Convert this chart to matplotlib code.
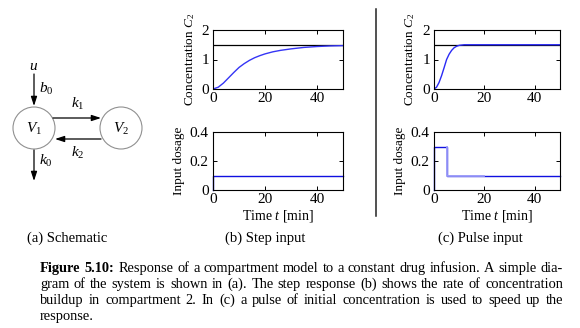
import numpy as np
import matplotlib
matplotlib.use('Agg')
import matplotlib.pyplot as plt
from matplotlib.patches import Circle

plt.rcParams['font.family'] = ['Liberation Serif', 'DejaVu Serif']
plt.rcParams['mathtext.fontset'] = 'custom'
plt.rcParams['mathtext.rm'] = 'Liberation Serif'
plt.rcParams['mathtext.it'] = 'Liberation Serif:italic'

# ---------------- data ----------------
xticks = [0, 20, 40]
conc_ticks = [0, 1, 2]
dose_ticks = [0, 0.2, 0.4]
dose_ticklabels = ['0', '0.2', '0.4']
target_c = 1.5

# (b) step input
step_t = [0, 2, 4, 6, 8, 10, 12, 14, 16, 18, 20, 23, 26, 30, 35, 40, 45, 50]
step_c = [0, 0.06, 0.2, 0.38, 0.56, 0.73, 0.86, 0.97, 1.06, 1.13, 1.19, 1.26, 1.31, 1.36, 1.41, 1.44, 1.46, 1.47]
step_in_t = [0, 0, 50]
step_in_u = [0, 0.1, 0.1]

# (c) pulse input
pulse_t = [0, 1, 2, 3, 4, 5, 6, 7, 8, 9, 10, 12, 15, 50]
pulse_c = [0, 0.06, 0.22, 0.45, 0.72, 1.0, 1.18, 1.31, 1.4, 1.45, 1.48, 1.5, 1.5, 1.5]
pulse_in_t = [0, 0, 5, 5, 20, 50]
pulse_in_u = [0, 0.3, 0.3, 0.1, 0.1, 0.1]

caption_lines = [
    "Figure 5.10: Response of a compartment model to a constant drug infusion. A simple dia-",
    "gram of the system is shown in (a). The step response (b) shows the rate of concentration",
    "buildup in compartment 2. In (c) a pulse of initial concentration is used to speed up the",
    "response.",
]

W, H = 580, 328
fig = plt.figure(figsize=(W / 100, H / 100), dpi=100)


def px_axes(left, top, right, bottom):
    return fig.add_axes([left / W, 1 - bottom / H, (right - left) / W, (bottom - top) / H])


def style(ax, yt, ytl, ylim):
    ax.set_xlim(0, 50)
    ax.set_ylim(*ylim)
    ax.set_xticks(xticks)
    ax.set_xticklabels([str(v) for v in xticks])
    ax.set_yticks(yt)
    ax.set_yticklabels(ytl)
    ax.tick_params(direction='in', top=True, right=True, length=3, width=0.7,
                   labelsize=11)
    ax.tick_params(axis='x', pad=2.5)
    ax.tick_params(axis='y', pad=3)
    for s in ax.spines.values():
        s.set_linewidth(0.8)


# ---- (b) ----
ax_b1 = px_axes(213, 30, 343, 89)
ax_b1.axhline(target_c, color='black', lw=0.9)
ax_b1.plot(step_t, step_c, color='#3535f5', lw=1.0)
style(ax_b1, conc_ticks, ['0', '1', '2'], (0, 2))
ax_b1.set_ylabel('Concentration $C_2$', fontsize=9.5)
ax_b1.yaxis.set_label_coords(-0.125, 0.5)

ax_b2 = px_axes(213, 132, 343, 190)
ax_b2.plot(step_in_t, step_in_u, color='#1010e0', lw=1.0, clip_on=False)
style(ax_b2, dose_ticks, dose_ticklabels, (0, 0.4))
ax_b2.set_ylabel('Input dosage', fontsize=9.5)
ax_b2.yaxis.set_label_coords(-0.215, 0.5)
ax_b2.set_xlabel('Time $t$ [min]', fontsize=10, labelpad=1)

# ---- (c) ----
ax_c1 = px_axes(434, 30, 560, 89)
ax_c1.axhline(target_c, color='black', lw=0.9)
ax_c1.plot(pulse_t, pulse_c, color='#2a2af5', lw=1.0)
style(ax_c1, conc_ticks, ['0', '1', '2'], (0, 2))
ax_c1.set_ylabel('Concentration $C_2$', fontsize=9.5)
ax_c1.yaxis.set_label_coords(-0.135, 0.5)

ax_c2 = px_axes(434, 132, 560, 190)
ax_c2.plot(pulse_in_t, pulse_in_u, color='#1010e0', lw=1.0, clip_on=False)
ax_c2.plot(pulse_in_t[2:5], pulse_in_u[2:5], color='#9a9af8', lw=1.3)
style(ax_c2, dose_ticks, dose_ticklabels, (0, 0.4))
ax_c2.set_ylabel('Input dosage', fontsize=9.5)
ax_c2.yaxis.set_label_coords(-0.22, 0.5)
ax_c2.set_xlabel('Time $t$ [min]', fontsize=10, labelpad=1)

# ---- overlay in pixel coords: schematic, separator, captions ----
ov = fig.add_axes([0, 0, 1, 1], zorder=-1)
ov.set_xlim(0, W)
ov.set_ylim(H, 0)
ov.axis('off')

r = 21
for cx, name in [(34, '$V_1$'), (121, '$V_2$')]:
    ov.add_patch(Circle((cx, 128), r, fill=False, ec='#909090', lw=0.8))
    ov.text(cx, 129, name, fontsize=11, ha='center', va='center')

arrow = dict(arrowstyle='-|>,head_length=0.55,head_width=0.18', color='black', lw=0.9,
             shrinkA=0, shrinkB=0)
ov.annotate('', xy=(34, 106), xytext=(34, 74), arrowprops=arrow)
ov.annotate('', xy=(101, 118), xytext=(53, 118), arrowprops=arrow)
ov.annotate('', xy=(55, 139), xytext=(101, 139), arrowprops=arrow)
ov.annotate('', xy=(34, 181), xytext=(34, 150), arrowprops=arrow)
ov.text(34, 66, '$u$', fontsize=11, ha='center', va='center')
ov.text(39, 89, '$b_0$', fontsize=11, ha='left', va='center')
ov.text(78, 104, '$k_1$', fontsize=11, ha='center', va='center')
ov.text(78, 153, '$k_2$', fontsize=11, ha='center', va='center')
ov.text(39, 161, '$k_0$', fontsize=11, ha='left', va='center')

ov.plot([376, 376], [9, 216], color='#222222', lw=1.1)

ov.text(67, 238, '(a) Schematic', fontsize=10.5, ha='center', va='center')
ov.text(265, 238, '(b) Step input', fontsize=10.5, ha='center', va='center')
ov.text(480, 238, '(c) Pulse input', fontsize=10.5, ha='center', va='center')

# justified caption
x0, x1 = 40, 563
baselines = [272, 288, 304, 320]
fig.canvas.draw()
for i, (line, yb) in enumerate(zip(caption_lines, baselines)):
    words = line.split(' ')
    objs = []
    for j, w in enumerate(words):
        bold = (i == 0 and j < 2)
        objs.append(ov.text(0, yb, w, fontsize=10.4, va='baseline', ha='left',
                            fontweight='bold' if bold else 'normal'))
    fig.canvas.draw()
    widths = [o.get_window_extent().width for o in objs]
    if i < len(caption_lines) - 1:
        gap = (x1 - x0 - sum(widths)) / (len(objs) - 1)
    else:
        gap = 3
    x = x0
    for o, w in zip(objs, widths):
        o.set_x(x)
        x += w + gap

fig.savefig('out.png', dpi=100)
